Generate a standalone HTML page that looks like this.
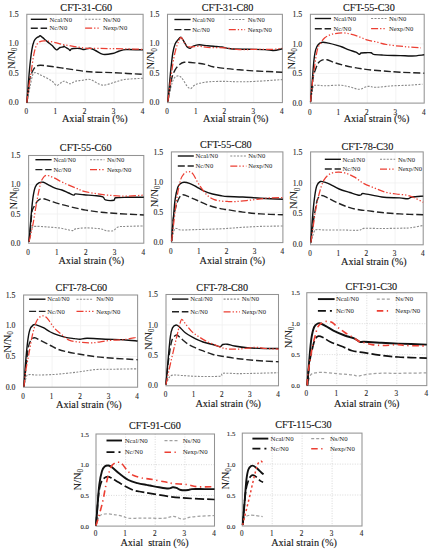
<!DOCTYPE html>
<html><head><meta charset="utf-8"><style>
html,body{margin:0;padding:0;background:#fff;width:431px;height:550px;overflow:hidden}
svg{display:block}
text{font-family:"Liberation Serif", serif;fill:#151515;stroke:#151515;stroke-width:0.12px}
text.t{fill:#2a2a2a;stroke:#2a2a2a}
text.lg{stroke:none;fill:#222}
text.yl{stroke-width:0.05px}
</style></head><body>
<svg width="431" height="550" viewBox="0 0 431 550">
<line x1="55.9" y1="14.3" x2="55.9" y2="102.7" stroke="#f0f0f0" stroke-width="0.8"/>
<line x1="85.0" y1="14.3" x2="85.0" y2="102.7" stroke="#f0f0f0" stroke-width="0.8"/>
<line x1="114.0" y1="14.3" x2="114.0" y2="102.7" stroke="#f0f0f0" stroke-width="0.8"/>
<line x1="26.8" y1="73.2" x2="143.1" y2="73.2" stroke="#f0f0f0" stroke-width="0.8"/>
<line x1="26.8" y1="43.8" x2="143.1" y2="43.8" stroke="#f0f0f0" stroke-width="0.8"/>
<rect x="26.8" y="14.3" width="116.3" height="88.4" fill="none" stroke="#939393" stroke-width="1.05"/>
<path d="M26.90,102.60 C27.70,98.62 30.47,83.68 31.70,78.70 C32.93,73.72 33.02,73.42 34.30,72.70 C35.58,71.98 37.42,73.55 39.40,74.40 C41.38,75.25 44.07,76.67 46.20,77.80 C48.33,78.93 50.48,79.92 52.20,81.20 C53.92,82.48 55.08,85.22 56.50,85.50 C57.92,85.78 59.42,83.62 60.70,82.90 C61.98,82.18 62.63,81.05 64.20,81.20 C65.77,81.35 68.25,83.80 70.10,83.80 C71.95,83.80 73.30,81.77 75.30,81.20 C77.30,80.63 79.60,80.68 82.10,80.40 C84.60,80.12 86.95,78.72 90.30,79.50 C93.65,80.28 98.22,84.62 102.20,85.10 C106.18,85.58 110.50,83.33 114.20,82.40 C117.90,81.47 119.60,80.18 124.40,79.50 C129.20,78.82 139.90,78.50 143.00,78.30" fill="none" stroke="#8a8a8a" stroke-width="1.1" stroke-dasharray="2 1.4"/>
<path d="M26.90,102.60 C27.17,100.50 28.07,93.70 28.50,90.00 C28.93,86.30 28.83,83.52 29.50,80.40 C30.17,77.28 31.48,73.57 32.50,71.30 C33.52,69.03 34.33,67.80 35.60,66.80 C36.87,65.80 38.10,65.43 40.10,65.30 C42.10,65.17 43.58,65.50 47.60,66.00 C51.62,66.50 58.17,67.43 64.20,68.30 C70.23,69.17 78.32,70.55 83.80,71.20 C89.28,71.85 92.03,71.95 97.10,72.20 C102.17,72.45 106.55,72.33 114.20,72.70 C121.85,73.07 138.20,74.12 143.00,74.40" fill="none" stroke="#222" stroke-width="1.4" stroke-dasharray="7 2.8" stroke-linejoin="round"/>
<path d="M26.90,102.60 C27.33,97.13 28.68,78.53 29.50,69.80 C30.32,61.07 31.03,54.98 31.80,50.20 C32.57,45.42 33.22,43.23 34.10,41.10 C34.98,38.97 36.37,38.10 37.10,37.40 C37.83,36.70 38.00,37.17 38.50,36.90 C39.00,36.63 39.45,35.72 40.10,35.80 C40.75,35.88 41.15,36.38 42.40,37.40 C43.65,38.42 45.97,40.53 47.60,41.90 C49.23,43.27 50.72,44.27 52.20,45.60 C53.68,46.93 55.20,49.58 56.50,49.90 C57.80,50.22 58.92,47.98 60.00,47.50 C61.08,47.02 62.33,47.25 63.00,47.00 C63.67,46.75 63.67,46.00 64.00,46.00 C64.33,46.00 64.25,46.50 65.00,47.00 C65.75,47.50 67.67,48.42 68.50,49.00 C69.33,49.58 69.55,50.50 70.00,50.50 C70.45,50.50 70.62,49.33 71.20,49.00 C71.78,48.67 72.03,48.58 73.50,48.50 C74.97,48.42 78.25,48.33 80.00,48.50 C81.75,48.67 82.33,49.53 84.00,49.50 C85.67,49.47 88.10,48.13 90.00,48.30 C91.90,48.47 93.22,49.48 95.40,50.50 C97.58,51.52 100.25,53.90 103.10,54.40 C105.95,54.90 109.80,54.07 112.50,53.50 C115.20,52.93 117.03,51.65 119.30,51.00 C121.57,50.35 122.15,49.78 126.10,49.60 C130.05,49.42 140.18,49.85 143.00,49.90" fill="none" stroke="#111" stroke-width="1.4" stroke-linejoin="round"/>
<path d="M26.90,102.60 C27.08,100.90 27.32,97.37 28.00,92.40 C28.68,87.43 29.98,79.33 31.00,72.80 C32.02,66.27 33.08,57.98 34.10,53.20 C35.12,48.42 35.85,46.12 37.10,44.10 C38.35,42.08 39.85,41.60 41.60,41.10 C43.35,40.60 45.33,40.85 47.60,41.10 C49.87,41.35 52.30,41.97 55.20,42.60 C58.10,43.23 60.23,44.02 65.00,44.90 C69.77,45.78 78.45,47.32 83.80,47.90 C89.15,48.48 92.03,48.27 97.10,48.40 C102.17,48.53 106.55,48.55 114.20,48.70 C121.85,48.85 138.20,49.20 143.00,49.30" fill="none" stroke="#ec3f33" stroke-width="1.25" stroke-dasharray="7 2 1.3 2 1.3 2" stroke-linejoin="round"/>
<text x="86.2" y="11.0" font-size="10.2" text-anchor="middle">CFT-31-C60</text>
<text x="18.6" y="105.3" font-size="7.8" text-anchor="end" class="t">0.0</text>
<text x="18.6" y="75.8" font-size="7.8" text-anchor="end" class="t">0.5</text>
<text x="18.6" y="46.4" font-size="7.8" text-anchor="end" class="t">1.0</text>
<text x="18.6" y="16.9" font-size="7.8" text-anchor="end" class="t">1.5</text>
<text x="26.3" y="114.1" font-size="7.2" text-anchor="middle" class="t">0</text>
<text x="55.4" y="114.1" font-size="7.2" text-anchor="middle" class="t">1</text>
<text x="84.5" y="114.1" font-size="7.2" text-anchor="middle" class="t">2</text>
<text x="113.5" y="114.1" font-size="7.2" text-anchor="middle" class="t">3</text>
<text x="142.6" y="114.1" font-size="7.2" text-anchor="middle" class="t">4</text>
<text x="94.8" y="121.7" font-size="10.2" text-anchor="middle">Axial strain (%)</text>
<text transform="translate(15.25,58.35) rotate(-90)" font-size="10.4" text-anchor="middle" class="yl">N/N<tspan font-size="7.2" dy="2.2">0</tspan></text>
<line x1="30.8" y1="19.3" x2="47.1" y2="19.3" stroke="#111" stroke-width="1.4"/>
<text x="49.6" y="21.5" font-size="6.6" class="lg">Ncal/N0</text>
<line x1="30.8" y1="28.2" x2="47.1" y2="28.2" stroke="#222" stroke-width="1.4" stroke-dasharray="7 2.8"/>
<text x="49.6" y="30.4" font-size="6.6" class="lg">Nc/N0</text>
<line x1="85.1" y1="19.3" x2="100.5" y2="19.3" stroke="#8a8a8a" stroke-width="1.1" stroke-dasharray="2 1.4"/>
<text x="103" y="21.5" font-size="6.6" class="lg">Ns/N0</text>
<line x1="85.1" y1="28.2" x2="100.5" y2="28.2" stroke="#ec3f33" stroke-width="1.25" stroke-dasharray="7 2 1.3 2 1.3 2"/>
<text x="103" y="30.4" font-size="6.6" class="lg">Nexp/N0</text>
<line x1="196.2" y1="14.3" x2="196.2" y2="102.6" stroke="#f0f0f0" stroke-width="0.8"/>
<line x1="224.9" y1="14.3" x2="224.9" y2="102.6" stroke="#f0f0f0" stroke-width="0.8"/>
<line x1="253.7" y1="14.3" x2="253.7" y2="102.6" stroke="#f0f0f0" stroke-width="0.8"/>
<line x1="167.5" y1="73.2" x2="282.4" y2="73.2" stroke="#f0f0f0" stroke-width="0.8"/>
<line x1="167.5" y1="43.7" x2="282.4" y2="43.7" stroke="#f0f0f0" stroke-width="0.8"/>
<rect x="167.5" y="14.3" width="114.9" height="88.3" fill="none" stroke="#939393" stroke-width="1.05"/>
<path d="M167.90,101.50 C168.55,98.55 170.57,87.90 171.80,83.80 C173.03,79.70 174.02,78.18 175.30,76.90 C176.58,75.62 178.23,75.67 179.50,76.10 C180.77,76.53 181.62,77.80 182.90,79.50 C184.18,81.20 185.92,84.78 187.20,86.30 C188.48,87.82 189.45,88.73 190.60,88.60 C191.75,88.47 192.67,86.37 194.10,85.50 C195.53,84.63 196.65,84.03 199.20,83.40 C201.75,82.77 205.13,82.03 209.40,81.70 C213.67,81.37 219.85,81.38 224.80,81.40 C229.75,81.42 233.87,81.82 239.10,81.80 C244.33,81.78 249.02,81.67 256.20,81.30 C263.38,80.93 277.87,79.88 282.20,79.60" fill="none" stroke="#8a8a8a" stroke-width="1.1" stroke-dasharray="2 1.4"/>
<path d="M167.90,101.50 C168.25,99.25 169.32,92.03 170.00,88.00 C170.68,83.97 171.15,80.33 172.00,77.30 C172.85,74.27 173.97,71.80 175.10,69.80 C176.23,67.80 177.30,66.55 178.80,65.30 C180.30,64.05 181.20,62.68 184.10,62.30 C187.00,61.92 192.55,62.63 196.20,63.00 C199.85,63.37 203.22,63.88 206.00,64.50 C208.78,65.12 209.77,66.05 212.90,66.70 C216.03,67.35 220.43,67.88 224.80,68.40 C229.17,68.92 233.87,69.37 239.10,69.80 C244.33,70.23 249.02,70.60 256.20,71.00 C263.38,71.40 277.87,72.00 282.20,72.20" fill="none" stroke="#222" stroke-width="1.4" stroke-dasharray="7 2.8" stroke-linejoin="round"/>
<path d="M167.90,101.50 C168.33,96.72 169.68,80.85 170.50,72.80 C171.32,64.75 172.03,57.98 172.80,53.20 C173.57,48.42 174.22,46.37 175.10,44.10 C175.98,41.83 177.10,40.72 178.10,39.60 C179.10,38.48 180.00,36.87 181.10,37.40 C182.20,37.93 183.68,41.20 184.70,42.80 C185.72,44.40 186.27,46.10 187.20,47.00 C188.13,47.90 189.30,48.33 190.30,48.20 C191.30,48.07 191.72,46.77 193.20,46.20 C194.68,45.63 196.78,44.87 199.20,44.80 C201.62,44.73 204.85,45.52 207.70,45.80 C210.55,46.08 213.92,46.30 216.30,46.50 C218.68,46.70 219.62,46.62 222.00,47.00 C224.38,47.38 226.32,48.42 230.60,48.80 C234.88,49.18 242.00,49.17 247.70,49.30 C253.40,49.43 260.53,49.40 264.80,49.60 C269.07,49.80 270.40,50.63 273.30,50.50 C276.20,50.37 280.72,49.08 282.20,48.80" fill="none" stroke="#111" stroke-width="1.4" stroke-linejoin="round"/>
<path d="M167.90,101.50 C168.27,98.55 169.30,89.88 170.10,83.80 C170.90,77.72 171.83,70.42 172.70,65.00 C173.57,59.58 174.30,55.28 175.30,51.30 C176.30,47.32 177.72,43.43 178.70,41.10 C179.68,38.77 180.35,37.17 181.20,37.30 C182.05,37.43 182.93,40.57 183.80,41.90 C184.67,43.23 185.27,44.45 186.40,45.30 C187.53,46.15 188.47,46.85 190.60,47.00 C192.73,47.15 196.35,46.12 199.20,46.20 C202.05,46.28 203.43,47.22 207.70,47.50 C211.97,47.78 219.57,47.55 224.80,47.90 C230.03,48.25 233.87,49.37 239.10,49.60 C244.33,49.83 250.50,49.35 256.20,49.30 C261.90,49.25 268.97,49.48 273.30,49.30 C277.63,49.12 280.72,48.38 282.20,48.20" fill="none" stroke="#ec3f33" stroke-width="1.25" stroke-dasharray="7 2 1.3 2 1.3 2" stroke-linejoin="round"/>
<text x="227.6" y="10.9" font-size="10.2" text-anchor="middle">CFT-31-C80</text>
<text x="159.3" y="105.2" font-size="7.8" text-anchor="end" class="t">0.0</text>
<text x="159.3" y="75.8" font-size="7.8" text-anchor="end" class="t">0.5</text>
<text x="159.3" y="46.3" font-size="7.8" text-anchor="end" class="t">1.0</text>
<text x="159.3" y="16.9" font-size="7.8" text-anchor="end" class="t">1.5</text>
<text x="167.0" y="114.0" font-size="7.2" text-anchor="middle" class="t">0</text>
<text x="195.7" y="114.0" font-size="7.2" text-anchor="middle" class="t">1</text>
<text x="224.4" y="114.0" font-size="7.2" text-anchor="middle" class="t">2</text>
<text x="253.2" y="114.0" font-size="7.2" text-anchor="middle" class="t">3</text>
<text x="281.9" y="114.0" font-size="7.2" text-anchor="middle" class="t">4</text>
<text x="235.7" y="121.7" font-size="10.2" text-anchor="middle">Axial strain (%)</text>
<text transform="translate(154.40,58.85) rotate(-90)" font-size="10.4" text-anchor="middle" class="yl">N/N<tspan font-size="7.2" dy="2.2">0</tspan></text>
<line x1="174.4" y1="19.5" x2="190.6" y2="19.5" stroke="#111" stroke-width="1.4"/>
<text x="192.3" y="21.7" font-size="6.6" class="lg">Ncal/N0</text>
<line x1="174.4" y1="29.6" x2="190.6" y2="29.6" stroke="#222" stroke-width="1.4" stroke-dasharray="7 2.8"/>
<text x="192.3" y="31.8" font-size="6.6" class="lg">Nc/N0</text>
<line x1="228.8" y1="19.5" x2="245.1" y2="19.5" stroke="#8a8a8a" stroke-width="1.1" stroke-dasharray="2 1.4"/>
<text x="247.7" y="21.7" font-size="6.6" class="lg">Ns/N0</text>
<line x1="228.8" y1="29.6" x2="245.1" y2="29.6" stroke="#ec3f33" stroke-width="1.25" stroke-dasharray="7 2 1.3 2 1.3 2"/>
<text x="247.7" y="31.8" font-size="6.6" class="lg">Nexp/N0</text>
<line x1="338.8" y1="14.3" x2="338.8" y2="103.1" stroke="#f0f0f0" stroke-width="0.8"/>
<line x1="367.3" y1="14.3" x2="367.3" y2="103.1" stroke="#f0f0f0" stroke-width="0.8"/>
<line x1="395.8" y1="14.3" x2="395.8" y2="103.1" stroke="#f0f0f0" stroke-width="0.8"/>
<line x1="310.4" y1="73.5" x2="424.2" y2="73.5" stroke="#f0f0f0" stroke-width="0.8"/>
<line x1="310.4" y1="43.9" x2="424.2" y2="43.9" stroke="#f0f0f0" stroke-width="0.8"/>
<rect x="310.4" y="14.3" width="113.8" height="88.8" fill="none" stroke="#939393" stroke-width="1.05"/>
<path d="M310.60,101.70 C311.02,99.28 312.25,89.95 313.10,87.20 C313.95,84.45 313.70,85.43 315.70,85.20 C317.70,84.97 320.97,85.80 325.10,85.80 C329.23,85.80 336.23,84.97 340.50,85.20 C344.77,85.43 347.57,86.52 350.70,87.20 C353.83,87.88 356.45,89.43 359.30,89.30 C362.15,89.17 364.97,86.73 367.80,86.40 C370.63,86.07 372.32,87.38 376.30,87.30 C380.28,87.22 386.28,86.25 391.70,85.90 C397.12,85.55 403.68,85.48 408.80,85.20 C413.92,84.92 420.13,84.37 422.40,84.20" fill="none" stroke="#8a8a8a" stroke-width="1.1" stroke-dasharray="2 1.4"/>
<path d="M310.60,101.70 C310.87,99.08 311.73,90.25 312.20,86.00 C312.67,81.75 312.73,79.30 313.40,76.20 C314.07,73.10 315.28,69.72 316.20,67.40 C317.12,65.08 317.93,63.52 318.90,62.30 C319.87,61.08 320.65,60.53 322.00,60.10 C323.35,59.67 324.77,59.23 327.00,59.70 C329.23,60.17 332.30,61.88 335.40,62.90 C338.50,63.92 341.90,64.93 345.60,65.80 C349.30,66.67 353.90,67.47 357.60,68.10 C361.30,68.73 363.55,69.12 367.80,69.60 C372.05,70.08 377.70,70.57 383.10,71.00 C388.50,71.43 393.35,71.83 400.20,72.20 C407.05,72.57 420.20,73.03 424.20,73.20" fill="none" stroke="#222" stroke-width="1.4" stroke-dasharray="7 2.8" stroke-linejoin="round"/>
<path d="M310.60,101.70 C310.88,98.15 311.73,87.37 312.30,80.40 C312.87,73.43 313.43,65.03 314.00,59.90 C314.57,54.77 314.98,52.17 315.70,49.60 C316.42,47.03 317.17,45.72 318.30,44.50 C319.43,43.28 320.80,42.53 322.50,42.30 C324.20,42.07 326.07,42.60 328.50,43.10 C330.93,43.60 334.82,44.65 337.10,45.30 C339.38,45.95 340.22,46.23 342.20,47.00 C344.18,47.77 346.72,49.03 349.00,49.90 C351.28,50.77 354.18,51.45 355.90,52.20 C357.62,52.95 358.45,54.27 359.30,54.40 C360.15,54.53 359.88,53.28 361.00,53.00 C362.12,52.72 364.32,52.75 366.00,52.70 C367.68,52.65 369.82,52.42 371.10,52.70 C372.38,52.98 371.70,54.00 373.70,54.40 C375.70,54.80 378.68,54.90 383.10,55.10 C387.52,55.30 395.35,55.45 400.20,55.60 C405.05,55.75 408.20,56.13 412.20,56.00 C416.20,55.87 422.20,55.00 424.20,54.80" fill="none" stroke="#111" stroke-width="1.4" stroke-linejoin="round"/>
<path d="M310.60,101.70 C310.88,98.72 311.60,89.92 312.30,83.80 C313.00,77.68 313.95,70.70 314.80,65.00 C315.65,59.30 316.40,53.30 317.40,49.60 C318.40,45.90 319.52,44.80 320.80,42.80 C322.08,40.80 323.25,39.03 325.10,37.60 C326.95,36.17 329.05,34.98 331.90,34.20 C334.75,33.42 339.07,32.90 342.20,32.90 C345.33,32.90 347.85,33.55 350.70,34.20 C353.55,34.85 356.45,35.80 359.30,36.80 C362.15,37.80 364.97,39.35 367.80,40.20 C370.63,41.05 373.18,41.18 376.30,41.90 C379.42,42.62 382.52,43.78 386.50,44.50 C390.48,45.22 396.20,45.77 400.20,46.20 C404.20,46.63 407.03,46.82 410.50,47.10 C413.97,47.38 419.25,47.77 421.00,47.90" fill="none" stroke="#ec3f33" stroke-width="1.25" stroke-dasharray="7 2 1.3 2 1.3 2" stroke-linejoin="round"/>
<text x="368.9" y="10.9" font-size="10.2" text-anchor="middle">CFT-55-C30</text>
<text x="302.2" y="105.7" font-size="7.8" text-anchor="end" class="t">0.0</text>
<text x="302.2" y="76.1" font-size="7.8" text-anchor="end" class="t">0.5</text>
<text x="302.2" y="46.5" font-size="7.8" text-anchor="end" class="t">1.0</text>
<text x="302.2" y="16.9" font-size="7.8" text-anchor="end" class="t">1.5</text>
<text x="309.9" y="114.5" font-size="7.2" text-anchor="middle" class="t">0</text>
<text x="338.3" y="114.5" font-size="7.2" text-anchor="middle" class="t">1</text>
<text x="366.8" y="114.5" font-size="7.2" text-anchor="middle" class="t">2</text>
<text x="395.2" y="114.5" font-size="7.2" text-anchor="middle" class="t">3</text>
<text x="423.7" y="114.5" font-size="7.2" text-anchor="middle" class="t">4</text>
<text x="376.5" y="122.3" font-size="10.2" text-anchor="middle">Axial strain (%)</text>
<text transform="translate(295.00,58.85) rotate(-90)" font-size="10.4" text-anchor="middle" class="yl">N/N<tspan font-size="7.2" dy="2.2">0</tspan></text>
<line x1="314.8" y1="18.5" x2="331.1" y2="18.5" stroke="#111" stroke-width="1.4"/>
<text x="333.6" y="20.7" font-size="6.6" class="lg">Ncal/N0</text>
<line x1="314.8" y1="28.7" x2="331.1" y2="28.7" stroke="#222" stroke-width="1.4" stroke-dasharray="7 2.8"/>
<text x="333.6" y="30.9" font-size="6.6" class="lg">Nc/N0</text>
<line x1="371.1" y1="18.5" x2="386.5" y2="18.5" stroke="#8a8a8a" stroke-width="1.1" stroke-dasharray="2 1.4"/>
<text x="389.1" y="20.7" font-size="6.6" class="lg">Ns/N0</text>
<line x1="371.1" y1="28.7" x2="386.5" y2="28.7" stroke="#ec3f33" stroke-width="1.25" stroke-dasharray="7 2 1.3 2 1.3 2"/>
<text x="389.1" y="30.9" font-size="6.6" class="lg">Nexp/N0</text>
<line x1="57.4" y1="155.5" x2="57.4" y2="243.2" stroke="#f0f0f0" stroke-width="0.8"/>
<line x1="86.2" y1="155.5" x2="86.2" y2="243.2" stroke="#f0f0f0" stroke-width="0.8"/>
<line x1="115.0" y1="155.5" x2="115.0" y2="243.2" stroke="#f0f0f0" stroke-width="0.8"/>
<line x1="28.6" y1="214.0" x2="143.8" y2="214.0" stroke="#f0f0f0" stroke-width="0.8"/>
<line x1="28.6" y1="184.7" x2="143.8" y2="184.7" stroke="#f0f0f0" stroke-width="0.8"/>
<rect x="28.6" y="155.5" width="115.2" height="87.7" fill="none" stroke="#939393" stroke-width="1.05"/>
<path d="M29.10,241.70 C29.58,239.43 30.80,230.65 32.00,228.10 C33.20,225.55 33.88,226.60 36.30,226.40 C38.72,226.20 42.52,226.62 46.50,226.90 C50.48,227.18 55.92,227.48 60.20,228.10 C64.48,228.72 69.63,230.47 72.20,230.60 C74.77,230.73 73.33,229.35 75.60,228.90 C77.87,228.45 81.55,227.90 85.80,227.90 C90.05,227.90 97.70,228.43 101.10,228.90 C104.50,229.37 104.20,230.40 106.20,230.70 C108.20,231.00 111.10,231.33 113.10,230.70 C115.10,230.07 115.92,227.62 118.20,226.90 C120.48,226.18 122.53,226.57 126.80,226.40 C131.07,226.23 140.97,225.98 143.80,225.90" fill="none" stroke="#8a8a8a" stroke-width="1.1" stroke-dasharray="2 1.4"/>
<path d="M29.10,241.70 C29.38,238.92 30.32,230.05 30.80,225.00 C31.28,219.95 31.45,214.45 32.00,211.40 C32.55,208.35 33.17,208.45 34.10,206.70 C35.03,204.95 36.23,202.25 37.60,200.90 C38.97,199.55 40.35,198.65 42.30,198.60 C44.25,198.55 46.32,199.68 49.30,200.60 C52.28,201.52 56.10,202.93 60.20,204.10 C64.30,205.27 69.63,206.60 73.90,207.60 C78.17,208.60 81.27,209.33 85.80,210.10 C90.33,210.87 95.70,211.62 101.10,212.20 C106.50,212.78 111.08,213.13 118.20,213.60 C125.32,214.07 139.53,214.77 143.80,215.00" fill="none" stroke="#222" stroke-width="1.4" stroke-dasharray="7 2.8" stroke-linejoin="round"/>
<path d="M29.10,241.70 C29.45,237.23 30.55,222.28 31.20,214.90 C31.85,207.52 32.32,202.05 33.00,197.40 C33.68,192.75 34.33,189.42 35.30,187.00 C36.27,184.58 37.45,183.68 38.80,182.90 C40.15,182.12 41.65,181.88 43.40,182.30 C45.15,182.72 47.35,184.42 49.30,185.40 C51.25,186.38 53.00,187.43 55.10,188.20 C57.20,188.97 59.63,189.20 61.90,190.00 C64.17,190.80 66.70,192.15 68.70,193.00 C70.70,193.85 72.75,194.95 73.90,195.10 C75.05,195.25 73.92,193.95 75.60,193.90 C77.28,193.85 80.88,194.52 84.00,194.80 C87.12,195.08 91.17,195.27 94.30,195.60 C97.43,195.93 100.95,196.08 102.80,196.80 C104.65,197.52 103.55,199.33 105.40,199.90 C107.25,200.47 112.20,200.55 113.90,200.20 C115.60,199.85 113.45,198.28 115.60,197.80 C117.75,197.32 122.10,197.38 126.80,197.30 C131.50,197.22 140.97,197.30 143.80,197.30" fill="none" stroke="#111" stroke-width="1.4" stroke-linejoin="round"/>
<path d="M29.10,241.70 C29.75,238.78 31.77,230.60 33.00,224.20 C34.23,217.80 35.33,209.70 36.50,203.30 C37.67,196.90 38.97,189.93 40.00,185.80 C41.03,181.67 41.62,180.23 42.70,178.50 C43.78,176.77 44.72,175.55 46.50,175.40 C48.28,175.25 50.55,176.37 53.40,177.60 C56.25,178.83 59.90,181.08 63.60,182.80 C67.30,184.52 72.20,186.48 75.60,187.90 C79.00,189.32 80.32,190.30 84.00,191.30 C87.68,192.30 92.85,193.18 97.70,193.90 C102.55,194.62 108.25,195.23 113.10,195.60 C117.95,195.97 121.68,196.18 126.80,196.10 C131.92,196.02 140.97,195.27 143.80,195.10" fill="none" stroke="#ec3f33" stroke-width="1.25" stroke-dasharray="7 2 1.3 2 1.3 2" stroke-linejoin="round"/>
<text x="85.7" y="151.1" font-size="10.2" text-anchor="middle">CFT-55-C60</text>
<text x="20.4" y="245.8" font-size="7.8" text-anchor="end" class="t">0.0</text>
<text x="20.4" y="216.6" font-size="7.8" text-anchor="end" class="t">0.5</text>
<text x="20.4" y="187.3" font-size="7.8" text-anchor="end" class="t">1.0</text>
<text x="20.4" y="158.1" font-size="7.8" text-anchor="end" class="t">1.5</text>
<text x="28.1" y="254.6" font-size="7.2" text-anchor="middle" class="t">0</text>
<text x="56.9" y="254.6" font-size="7.2" text-anchor="middle" class="t">1</text>
<text x="85.7" y="254.6" font-size="7.2" text-anchor="middle" class="t">2</text>
<text x="114.5" y="254.6" font-size="7.2" text-anchor="middle" class="t">3</text>
<text x="143.3" y="254.6" font-size="7.2" text-anchor="middle" class="t">4</text>
<text x="91.3" y="264.1" font-size="10.2" text-anchor="middle">Axial strain (%)</text>
<text transform="translate(17.00,198.70) rotate(-90)" font-size="10.4" text-anchor="middle" class="yl">N/N<tspan font-size="7.2" dy="2.2">0</tspan></text>
<line x1="35.4" y1="159.7" x2="51.6" y2="159.7" stroke="#111" stroke-width="1.4"/>
<text x="53.4" y="161.89999999999998" font-size="6.6" class="lg">Ncal/N0</text>
<line x1="35.4" y1="169.6" x2="51.6" y2="169.6" stroke="#222" stroke-width="1.4" stroke-dasharray="7 2.8"/>
<text x="53.4" y="171.79999999999998" font-size="6.6" class="lg">Nc/N0</text>
<line x1="90" y1="159.7" x2="104.5" y2="159.7" stroke="#8a8a8a" stroke-width="1.1" stroke-dasharray="2 1.4"/>
<text x="107.1" y="161.89999999999998" font-size="6.6" class="lg">Ns/N0</text>
<line x1="90" y1="169.6" x2="104.5" y2="169.6" stroke="#ec3f33" stroke-width="1.25" stroke-dasharray="7 2 1.3 2 1.3 2"/>
<text x="107.1" y="171.79999999999998" font-size="6.6" class="lg">Nexp/N0</text>
<line x1="199.3" y1="151.9" x2="199.3" y2="242.6" stroke="#f0f0f0" stroke-width="0.8"/>
<line x1="227.1" y1="151.9" x2="227.1" y2="242.6" stroke="#f0f0f0" stroke-width="0.8"/>
<line x1="255.0" y1="151.9" x2="255.0" y2="242.6" stroke="#f0f0f0" stroke-width="0.8"/>
<line x1="171.4" y1="212.4" x2="282.9" y2="212.4" stroke="#f0f0f0" stroke-width="0.8"/>
<line x1="171.4" y1="182.1" x2="282.9" y2="182.1" stroke="#f0f0f0" stroke-width="0.8"/>
<rect x="171.4" y="151.9" width="111.5" height="90.7" fill="none" stroke="#939393" stroke-width="1.05"/>
<path d="M171.60,241.20 C172.03,239.33 173.32,232.12 174.20,230.00 C175.08,227.88 175.85,228.50 176.90,228.50 C177.95,228.50 177.53,229.82 180.50,230.00 C183.47,230.18 189.37,229.75 194.70,229.60 C200.03,229.45 206.95,229.30 212.50,229.10 C218.05,228.90 222.95,228.70 228.00,228.40 C233.05,228.10 237.37,227.63 242.80,227.30 C248.23,226.97 253.92,226.62 260.60,226.40 C267.28,226.18 279.18,226.07 282.90,226.00" fill="none" stroke="#8a8a8a" stroke-width="1.1" stroke-dasharray="2 1.4"/>
<path d="M171.60,241.20 C171.88,237.48 172.55,224.75 173.30,218.90 C174.05,213.05 175.17,209.53 176.10,206.10 C177.03,202.67 177.83,200.18 178.90,198.30 C179.97,196.42 181.08,195.15 182.50,194.80 C183.92,194.45 184.92,195.25 187.40,196.20 C189.88,197.15 193.85,198.97 197.40,200.50 C200.95,202.03 204.68,204.00 208.70,205.40 C212.72,206.80 218.28,208.17 221.50,208.90 C224.72,209.63 224.45,209.27 228.00,209.80 C231.55,210.33 237.37,211.42 242.80,212.10 C248.23,212.78 253.92,213.45 260.60,213.90 C267.28,214.35 279.18,214.65 282.90,214.80" fill="none" stroke="#222" stroke-width="1.4" stroke-dasharray="7 2.8" stroke-linejoin="round"/>
<path d="M171.60,241.20 C171.88,237.55 172.72,226.22 173.30,219.30 C173.88,212.38 174.35,205.05 175.10,199.70 C175.85,194.35 176.90,189.88 177.80,187.20 C178.70,184.52 179.47,184.43 180.50,183.60 C181.53,182.77 182.52,182.25 184.00,182.20 C185.48,182.15 187.32,182.53 189.40,183.30 C191.48,184.07 194.13,185.55 196.50,186.80 C198.87,188.05 200.93,189.60 203.60,190.80 C206.27,192.00 209.52,193.17 212.50,194.00 C215.48,194.83 218.92,195.38 221.50,195.80 C224.08,196.22 224.45,196.30 228.00,196.50 C231.55,196.70 237.37,196.72 242.80,197.00 C248.23,197.28 253.92,197.82 260.60,198.20 C267.28,198.58 279.18,199.12 282.90,199.30" fill="none" stroke="#111" stroke-width="1.4" stroke-linejoin="round"/>
<path d="M171.60,241.20 C172.03,237.55 173.32,226.52 174.20,219.30 C175.08,212.08 175.85,204.43 176.90,197.90 C177.95,191.37 179.32,184.12 180.50,180.10 C181.68,176.08 182.67,175.23 184.00,173.80 C185.33,172.37 187.02,171.50 188.50,171.50 C189.98,171.50 191.42,172.07 192.90,173.80 C194.38,175.53 195.77,179.22 197.40,181.90 C199.03,184.58 200.92,187.53 202.70,189.90 C204.48,192.27 206.17,194.47 208.10,196.10 C210.03,197.73 212.07,198.87 214.30,199.70 C216.53,200.53 219.22,200.80 221.50,201.10 C223.78,201.40 225.63,201.43 228.00,201.50 C230.37,201.57 232.63,201.65 235.70,201.50 C238.77,201.35 242.83,200.97 246.40,200.60 C249.97,200.23 253.25,199.75 257.10,199.30 C260.95,198.85 265.20,198.20 269.50,197.90 C273.80,197.60 280.67,197.57 282.90,197.50" fill="none" stroke="#ec3f33" stroke-width="1.25" stroke-dasharray="7 2 1.3 2 1.3 2" stroke-linejoin="round"/>
<text x="225.8" y="148.2" font-size="10.2" text-anchor="middle">CFT-55-C80</text>
<text x="163.2" y="245.2" font-size="7.8" text-anchor="end" class="t">0.0</text>
<text x="163.2" y="215.0" font-size="7.8" text-anchor="end" class="t">0.5</text>
<text x="163.2" y="184.7" font-size="7.8" text-anchor="end" class="t">1.0</text>
<text x="163.2" y="154.5" font-size="7.8" text-anchor="end" class="t">1.5</text>
<text x="170.9" y="254.0" font-size="7.2" text-anchor="middle" class="t">0</text>
<text x="198.8" y="254.0" font-size="7.2" text-anchor="middle" class="t">1</text>
<text x="226.6" y="254.0" font-size="7.2" text-anchor="middle" class="t">2</text>
<text x="254.5" y="254.0" font-size="7.2" text-anchor="middle" class="t">3</text>
<text x="282.4" y="254.0" font-size="7.2" text-anchor="middle" class="t">4</text>
<text x="232.4" y="263.5" font-size="10.2" text-anchor="middle">Axial strain (%)</text>
<text transform="translate(157.50,196.50) rotate(-90)" font-size="10.4" text-anchor="middle" class="yl">N/N<tspan font-size="7.2" dy="2.2">0</tspan></text>
<line x1="177.8" y1="156" x2="193.8" y2="156" stroke="#111" stroke-width="1.4"/>
<text x="195.6" y="158.2" font-size="6.6" class="lg">Ncal/N0</text>
<line x1="177.8" y1="166" x2="193.8" y2="166" stroke="#222" stroke-width="1.4" stroke-dasharray="7 2.8"/>
<text x="195.6" y="168.2" font-size="6.6" class="lg">Nc/N0</text>
<line x1="230.3" y1="156" x2="246.4" y2="156" stroke="#8a8a8a" stroke-width="1.1" stroke-dasharray="2 1.4"/>
<text x="248.2" y="158.2" font-size="6.6" class="lg">Ns/N0</text>
<line x1="230.3" y1="166" x2="246.4" y2="166" stroke="#ec3f33" stroke-width="1.25" stroke-dasharray="7 2 1.3 2 1.3 2"/>
<text x="248.2" y="168.2" font-size="6.6" class="lg">Nexp/N0</text>
<line x1="338.8" y1="151.9" x2="338.8" y2="244.8" stroke="#f0f0f0" stroke-width="0.8"/>
<line x1="366.9" y1="151.9" x2="366.9" y2="244.8" stroke="#f0f0f0" stroke-width="0.8"/>
<line x1="395.1" y1="151.9" x2="395.1" y2="244.8" stroke="#f0f0f0" stroke-width="0.8"/>
<line x1="310.6" y1="213.8" x2="423.2" y2="213.8" stroke="#f0f0f0" stroke-width="0.8"/>
<line x1="310.6" y1="182.9" x2="423.2" y2="182.9" stroke="#f0f0f0" stroke-width="0.8"/>
<rect x="310.6" y="151.9" width="112.6" height="92.9" fill="none" stroke="#939393" stroke-width="1.05"/>
<path d="M310.90,242.40 C311.43,240.62 313.12,233.83 314.10,231.70 C315.08,229.57 315.02,229.88 316.80,229.60 C318.58,229.32 320.50,229.93 324.80,230.00 C329.10,230.07 336.95,229.95 342.60,230.00 C348.25,230.05 355.13,230.57 358.70,230.30 C362.27,230.03 360.15,228.70 364.00,228.40 C367.85,228.10 375.87,228.53 381.80,228.50 C387.73,228.47 394.85,228.32 399.60,228.20 C404.35,228.08 406.37,228.25 410.30,227.80 C414.23,227.35 421.05,225.88 423.20,225.50" fill="none" stroke="#8a8a8a" stroke-width="1.1" stroke-dasharray="2 1.4"/>
<path d="M310.90,242.40 C311.30,238.98 312.55,227.45 313.30,221.90 C314.05,216.35 314.70,212.88 315.40,209.10 C316.10,205.32 316.55,201.43 317.50,199.20 C318.45,196.97 319.92,196.17 321.10,195.70 C322.28,195.23 321.88,195.22 324.60,196.40 C327.32,197.58 333.20,200.92 337.40,202.80 C341.60,204.68 345.95,206.50 349.80,207.70 C353.65,208.90 357.63,209.52 360.50,210.00 C363.37,210.48 363.45,210.18 367.00,210.60 C370.55,211.02 376.37,211.95 381.80,212.50 C387.23,213.05 392.70,213.52 399.60,213.90 C406.50,214.28 419.27,214.65 423.20,214.80" fill="none" stroke="#222" stroke-width="1.4" stroke-dasharray="7 2.8" stroke-linejoin="round"/>
<path d="M310.90,242.40 C311.17,238.27 311.87,225.27 312.50,217.60 C313.13,209.93 313.98,201.72 314.70,196.40 C315.42,191.08 315.87,188.18 316.80,185.70 C317.73,183.22 319.00,182.08 320.30,181.50 C321.60,180.92 322.95,181.73 324.60,182.20 C326.25,182.67 327.78,183.17 330.20,184.30 C332.62,185.43 335.83,187.63 339.10,189.00 C342.37,190.37 346.53,191.47 349.80,192.50 C353.07,193.53 356.78,194.83 358.70,195.20 C360.62,195.57 360.42,194.97 361.30,194.70 C362.18,194.43 360.58,193.22 364.00,193.60 C367.42,193.98 375.87,196.28 381.80,197.00 C387.73,197.72 395.28,197.60 399.60,197.90 C403.92,198.20 405.62,198.95 407.70,198.80 C409.78,198.65 409.52,197.45 412.10,197.00 C414.68,196.55 421.35,196.25 423.20,196.10" fill="none" stroke="#111" stroke-width="1.4" stroke-linejoin="round"/>
<path d="M310.90,242.40 C311.28,239.73 312.37,232.03 313.20,226.40 C314.03,220.77 314.85,214.25 315.90,208.60 C316.95,202.95 318.17,197.25 319.50,192.50 C320.83,187.75 322.12,183.22 323.90,180.10 C325.68,176.98 327.82,175.13 330.20,173.80 C332.58,172.47 335.53,172.18 338.20,172.10 C340.87,172.02 343.38,172.42 346.20,173.30 C349.02,174.18 352.13,175.68 355.10,177.40 C358.07,179.12 360.73,181.82 364.00,183.60 C367.27,185.38 371.13,186.67 374.70,188.10 C378.27,189.53 381.83,191.22 385.40,192.20 C388.97,193.18 392.53,193.50 396.10,194.00 C399.67,194.50 403.83,194.62 406.80,195.20 C409.77,195.78 411.17,196.32 413.90,197.50 C416.63,198.68 421.65,201.50 423.20,202.30" fill="none" stroke="#ec3f33" stroke-width="1.25" stroke-dasharray="7 2 1.3 2 1.3 2" stroke-linejoin="round"/>
<text x="367.4" y="149.5" font-size="10.2" text-anchor="middle">CFT-78-C30</text>
<text x="302.4" y="247.4" font-size="7.8" text-anchor="end" class="t">0.0</text>
<text x="302.4" y="216.4" font-size="7.8" text-anchor="end" class="t">0.5</text>
<text x="302.4" y="185.5" font-size="7.8" text-anchor="end" class="t">1.0</text>
<text x="302.4" y="154.5" font-size="7.8" text-anchor="end" class="t">1.5</text>
<text x="310.1" y="256.2" font-size="7.2" text-anchor="middle" class="t">0</text>
<text x="338.2" y="256.2" font-size="7.2" text-anchor="middle" class="t">1</text>
<text x="366.4" y="256.2" font-size="7.2" text-anchor="middle" class="t">2</text>
<text x="394.6" y="256.2" font-size="7.2" text-anchor="middle" class="t">3</text>
<text x="422.7" y="256.2" font-size="7.2" text-anchor="middle" class="t">4</text>
<text x="373.9" y="264.7" font-size="10.2" text-anchor="middle">Axial strain (%)</text>
<text transform="translate(297.35,198.35) rotate(-90)" font-size="10.4" text-anchor="middle" class="yl">N/N<tspan font-size="7.2" dy="2.2">0</tspan></text>
<line x1="324.8" y1="159.3" x2="340.9" y2="159.3" stroke="#111" stroke-width="1.4"/>
<text x="342.6" y="161.5" font-size="6.6" class="lg">Ncal/N0</text>
<line x1="324.8" y1="169" x2="340.9" y2="169" stroke="#222" stroke-width="1.4" stroke-dasharray="7 2.8"/>
<text x="342.6" y="171.2" font-size="6.6" class="lg">Nc/N0</text>
<line x1="380" y1="159.3" x2="395.2" y2="159.3" stroke="#8a8a8a" stroke-width="1.1" stroke-dasharray="2 1.4"/>
<text x="397.9" y="161.5" font-size="6.6" class="lg">Ns/N0</text>
<line x1="380" y1="169" x2="395.2" y2="169" stroke="#ec3f33" stroke-width="1.25" stroke-dasharray="7 2 1.3 2 1.3 2"/>
<text x="397.9" y="171.2" font-size="6.6" class="lg">Nexp/N0</text>
<line x1="52.1" y1="295" x2="52.1" y2="387.2" stroke="#f0f0f0" stroke-width="0.8"/>
<line x1="80.6" y1="295" x2="80.6" y2="387.2" stroke="#f0f0f0" stroke-width="0.8"/>
<line x1="109.1" y1="295" x2="109.1" y2="387.2" stroke="#f0f0f0" stroke-width="0.8"/>
<line x1="23.6" y1="356.5" x2="137.6" y2="356.5" stroke="#f0f0f0" stroke-width="0.8"/>
<line x1="23.6" y1="325.7" x2="137.6" y2="325.7" stroke="#f0f0f0" stroke-width="0.8"/>
<rect x="23.6" y="295" width="114.0" height="92.2" fill="none" stroke="#939393" stroke-width="1.05"/>
<path d="M24.00,386.50 C24.40,384.83 25.55,378.48 26.40,376.50 C27.25,374.52 27.13,374.85 29.10,374.60 C31.07,374.35 33.65,375.05 38.20,375.00 C42.75,374.95 49.77,374.80 56.40,374.30 C63.03,373.80 71.37,372.80 78.00,372.00 C84.63,371.20 90.13,369.97 96.20,369.50 C102.27,369.03 107.50,369.32 114.40,369.20 C121.30,369.08 133.73,368.87 137.60,368.80" fill="none" stroke="#8a8a8a" stroke-width="1.1" stroke-dasharray="2 1.4"/>
<path d="M24.00,386.50 C24.38,382.73 25.57,370.50 26.30,363.90 C27.03,357.30 27.58,350.92 28.40,346.90 C29.22,342.88 30.13,341.33 31.20,339.80 C32.27,338.27 33.27,337.58 34.80,337.70 C36.33,337.82 37.80,339.20 40.40,340.50 C43.00,341.80 47.47,344.03 50.40,345.50 C53.33,346.97 55.18,348.23 58.00,349.30 C60.82,350.37 63.63,351.07 67.30,351.90 C70.97,352.73 75.18,353.48 80.00,354.30 C84.82,355.12 90.47,356.13 96.20,356.80 C101.93,357.47 107.50,357.82 114.40,358.30 C121.30,358.78 133.73,359.47 137.60,359.70" fill="none" stroke="#222" stroke-width="1.4" stroke-dasharray="7 2.8" stroke-linejoin="round"/>
<path d="M24.00,386.50 C24.25,382.73 24.88,371.45 25.50,363.90 C26.12,356.35 26.98,346.87 27.70,341.20 C28.42,335.53 28.87,332.62 29.80,329.90 C30.73,327.18 32.23,325.73 33.30,324.90 C34.37,324.07 34.53,324.43 36.20,324.90 C37.87,325.37 40.93,326.52 43.30,327.70 C45.67,328.88 47.95,330.75 50.40,332.00 C52.85,333.25 55.48,334.30 58.00,335.20 C60.52,336.10 62.75,336.83 65.50,337.40 C68.25,337.97 72.08,338.30 74.50,338.60 C76.92,338.90 77.90,339.25 80.00,339.20 C82.10,339.15 82.88,338.30 87.10,338.30 C91.32,338.30 99.23,338.97 105.30,339.20 C111.37,339.43 118.12,339.40 123.50,339.70 C128.88,340.00 135.25,340.78 137.60,341.00" fill="none" stroke="#111" stroke-width="1.4" stroke-linejoin="round"/>
<path d="M24.00,386.50 C24.25,384.15 24.65,378.05 25.50,372.40 C26.35,366.75 27.92,358.98 29.10,352.60 C30.28,346.22 31.42,339.18 32.60,334.10 C33.78,329.02 35.05,324.90 36.20,322.10 C37.35,319.30 38.32,318.33 39.50,317.30 C40.68,316.27 42.13,315.87 43.30,315.90 C44.47,315.93 45.55,316.73 46.50,317.50 C47.45,318.27 47.65,318.68 49.00,320.50 C50.35,322.32 52.48,326.07 54.60,328.40 C56.72,330.73 59.28,332.55 61.70,334.50 C64.12,336.45 66.05,338.82 69.10,340.10 C72.15,341.38 76.10,341.75 80.00,342.20 C83.90,342.65 87.68,343.08 92.50,342.80 C97.32,342.52 103.73,341.02 108.90,340.50 C114.07,339.98 118.95,340.22 123.50,339.70 C128.05,339.18 134.08,337.78 136.20,337.40" fill="none" stroke="#ec3f33" stroke-width="1.25" stroke-dasharray="7 2 1.3 2 1.3 2" stroke-linejoin="round"/>
<text x="81.3" y="290.5" font-size="10.2" text-anchor="middle">CFT-78-C60</text>
<text x="15.4" y="389.8" font-size="7.8" text-anchor="end" class="t">0.0</text>
<text x="15.4" y="359.1" font-size="7.8" text-anchor="end" class="t">0.5</text>
<text x="15.4" y="328.3" font-size="7.8" text-anchor="end" class="t">1.0</text>
<text x="15.4" y="297.6" font-size="7.8" text-anchor="end" class="t">1.5</text>
<text x="23.1" y="398.6" font-size="7.2" text-anchor="middle" class="t">0</text>
<text x="51.6" y="398.6" font-size="7.2" text-anchor="middle" class="t">1</text>
<text x="80.1" y="398.6" font-size="7.2" text-anchor="middle" class="t">2</text>
<text x="108.6" y="398.6" font-size="7.2" text-anchor="middle" class="t">3</text>
<text x="137.1" y="398.6" font-size="7.2" text-anchor="middle" class="t">4</text>
<text x="88.9" y="407.7" font-size="10.2" text-anchor="middle">Axial strain (%)</text>
<text transform="translate(10.70,342.00) rotate(-90)" font-size="10.4" text-anchor="middle" class="yl">N/N<tspan font-size="7.2" dy="2.2">0</tspan></text>
<line x1="29.1" y1="299.2" x2="45.5" y2="299.2" stroke="#111" stroke-width="1.4"/>
<text x="47.3" y="301.4" font-size="6.6" class="lg">Ncal/N0</text>
<line x1="29.1" y1="311.4" x2="45.5" y2="311.4" stroke="#222" stroke-width="1.4" stroke-dasharray="7 2.8"/>
<text x="47.3" y="313.59999999999997" font-size="6.6" class="lg">Nc/N0</text>
<line x1="76.5" y1="299.2" x2="93.5" y2="299.2" stroke="#8a8a8a" stroke-width="1.1" stroke-dasharray="2 1.4"/>
<text x="96.2" y="301.4" font-size="6.6" class="lg">Ns/N0</text>
<line x1="76.5" y1="311.4" x2="93.5" y2="311.4" stroke="#ec3f33" stroke-width="1.25" stroke-dasharray="7 2 1.3 2 1.3 2"/>
<text x="96.2" y="313.59999999999997" font-size="6.6" class="lg">Nexp/N0</text>
<line x1="194.1" y1="294.5" x2="194.1" y2="385.8" stroke="#f0f0f0" stroke-width="0.8"/>
<line x1="222.2" y1="294.5" x2="222.2" y2="385.8" stroke="#f0f0f0" stroke-width="0.8"/>
<line x1="250.4" y1="294.5" x2="250.4" y2="385.8" stroke="#f0f0f0" stroke-width="0.8"/>
<line x1="166" y1="355.4" x2="278.5" y2="355.4" stroke="#f0f0f0" stroke-width="0.8"/>
<line x1="166" y1="324.9" x2="278.5" y2="324.9" stroke="#f0f0f0" stroke-width="0.8"/>
<rect x="166" y="294.5" width="112.5" height="91.3" fill="none" stroke="#939393" stroke-width="1.05"/>
<path d="M166.00,384.50 C166.55,383.30 168.15,378.87 169.30,377.30 C170.45,375.73 170.78,375.40 172.90,375.10 C175.02,374.80 177.75,375.28 182.00,375.50 C186.25,375.72 192.07,376.28 198.40,376.40 C204.73,376.52 215.95,376.72 220.00,376.20 C224.05,375.68 219.67,373.73 222.70,373.30 C225.73,372.87 232.58,373.60 238.20,373.60 C243.82,373.60 249.68,373.45 256.40,373.30 C263.12,373.15 274.82,372.80 278.50,372.70" fill="none" stroke="#8a8a8a" stroke-width="1.1" stroke-dasharray="2 1.4"/>
<path d="M166.00,384.50 C166.38,380.73 167.45,368.73 168.30,361.90 C169.15,355.07 170.28,347.52 171.10,343.50 C171.92,339.48 172.25,339.22 173.20,337.80 C174.15,336.38 175.50,334.88 176.80,335.00 C178.10,335.12 179.12,336.97 181.00,338.50 C182.88,340.03 185.50,342.55 188.10,344.20 C190.70,345.85 193.95,347.22 196.60,348.40 C199.25,349.58 201.28,350.28 204.00,351.30 C206.72,352.32 209.90,353.68 212.90,354.50 C215.90,355.32 217.78,355.50 222.00,356.20 C226.22,356.90 232.47,357.98 238.20,358.70 C243.93,359.42 249.68,359.98 256.40,360.50 C263.12,361.02 274.82,361.58 278.50,361.80" fill="none" stroke="#222" stroke-width="1.4" stroke-dasharray="7 2.8" stroke-linejoin="round"/>
<path d="M166.00,384.50 C166.38,380.02 167.57,365.62 168.30,357.60 C169.03,349.58 169.70,341.35 170.40,336.40 C171.10,331.45 171.55,329.80 172.50,327.90 C173.45,326.00 174.92,325.13 176.10,325.00 C177.28,324.87 178.07,325.80 179.60,327.10 C181.13,328.40 183.17,331.13 185.30,332.80 C187.43,334.47 189.45,335.57 192.40,337.10 C195.35,338.63 199.58,340.77 203.00,342.00 C206.42,343.23 210.07,343.72 212.90,344.50 C215.73,345.28 218.37,346.70 220.00,346.70 C221.63,346.70 221.48,344.92 222.70,344.50 C223.92,344.08 225.33,343.95 227.30,344.20 C229.27,344.45 231.17,345.40 234.50,346.00 C237.83,346.60 242.13,347.38 247.30,347.80 C252.47,348.22 260.30,348.38 265.50,348.50 C270.70,348.62 276.33,348.50 278.50,348.50" fill="none" stroke="#111" stroke-width="1.4" stroke-linejoin="round"/>
<path d="M166.00,384.50 C166.38,382.62 167.22,378.15 168.30,373.20 C169.38,368.25 171.08,360.93 172.50,354.80 C173.92,348.67 175.62,341.37 176.80,336.40 C177.98,331.43 178.78,327.85 179.60,325.00 C180.42,322.15 180.75,319.53 181.70,319.30 C182.65,319.07 183.52,321.47 185.30,323.60 C187.08,325.73 189.95,329.78 192.40,332.10 C194.85,334.42 197.48,335.88 200.00,337.50 C202.52,339.12 204.75,340.47 207.50,341.80 C210.25,343.13 214.08,344.50 216.50,345.50 C218.92,346.50 219.90,347.20 222.00,347.80 C224.10,348.40 226.40,348.88 229.10,349.10 C231.80,349.32 235.17,349.25 238.20,349.10 C241.23,348.95 244.27,348.50 247.30,348.20 C250.33,347.90 253.37,347.25 256.40,347.30 C259.43,347.35 261.82,348.20 265.50,348.50 C269.18,348.80 276.33,349.00 278.50,349.10" fill="none" stroke="#ec3f33" stroke-width="1.25" stroke-dasharray="7 2 1.3 2 1.3 2" stroke-linejoin="round"/>
<text x="222.2" y="290.6" font-size="10.2" text-anchor="middle">CFT-78-C80</text>
<text x="157.8" y="388.4" font-size="7.8" text-anchor="end" class="t">0.0</text>
<text x="157.8" y="358.0" font-size="7.8" text-anchor="end" class="t">0.5</text>
<text x="157.8" y="327.5" font-size="7.8" text-anchor="end" class="t">1.0</text>
<text x="157.8" y="297.1" font-size="7.8" text-anchor="end" class="t">1.5</text>
<text x="165.5" y="397.2" font-size="7.2" text-anchor="middle" class="t">0</text>
<text x="193.6" y="397.2" font-size="7.2" text-anchor="middle" class="t">1</text>
<text x="221.8" y="397.2" font-size="7.2" text-anchor="middle" class="t">2</text>
<text x="249.9" y="397.2" font-size="7.2" text-anchor="middle" class="t">3</text>
<text x="278.0" y="397.2" font-size="7.2" text-anchor="middle" class="t">4</text>
<text x="228.2" y="406.5" font-size="10.2" text-anchor="middle">Axial strain (%)</text>
<text transform="translate(152.10,339.30) rotate(-90)" font-size="10.4" text-anchor="middle" class="yl">N/N<tspan font-size="7.2" dy="2.2">0</tspan></text>
<line x1="172" y1="299.1" x2="188.4" y2="299.1" stroke="#111" stroke-width="1.4"/>
<text x="190.2" y="301.3" font-size="6.6" class="lg">Ncal/N0</text>
<line x1="172" y1="311.8" x2="188.4" y2="311.8" stroke="#222" stroke-width="1.4" stroke-dasharray="7 2.8"/>
<text x="190.2" y="314.0" font-size="6.6" class="lg">Nc/N0</text>
<line x1="223.6" y1="299.1" x2="240" y2="299.1" stroke="#8a8a8a" stroke-width="1.1" stroke-dasharray="2 1.4"/>
<text x="241.8" y="301.3" font-size="6.6" class="lg">Ns/N0</text>
<line x1="223.6" y1="311.8" x2="240" y2="311.8" stroke="#ec3f33" stroke-width="1.25" stroke-dasharray="7 2 1.3 2 1.3 2"/>
<text x="241.8" y="314.0" font-size="6.6" class="lg">Nexp/N0</text>
<line x1="336.8" y1="292.7" x2="336.8" y2="385.6" stroke="#cfcfcf" stroke-width="0.8" stroke-dasharray="1 1.5"/>
<line x1="366.8" y1="292.7" x2="366.8" y2="385.6" stroke="#cfcfcf" stroke-width="0.8" stroke-dasharray="1 1.5"/>
<line x1="396.8" y1="292.7" x2="396.8" y2="385.6" stroke="#cfcfcf" stroke-width="0.8" stroke-dasharray="1 1.5"/>
<line x1="306.8" y1="354.6" x2="426.8" y2="354.6" stroke="#cfcfcf" stroke-width="0.8" stroke-dasharray="1 1.5"/>
<line x1="306.8" y1="323.7" x2="426.8" y2="323.7" stroke="#cfcfcf" stroke-width="0.8" stroke-dasharray="1 1.5"/>
<rect x="306.8" y="292.7" width="120.0" height="92.9" fill="none" stroke="#939393" stroke-width="1.05"/>
<path d="M307.30,385.40 C307.83,383.70 309.20,377.28 310.50,375.20 C311.80,373.12 313.10,373.37 315.10,372.90 C317.10,372.43 318.78,372.27 322.50,372.40 C326.22,372.53 332.45,373.30 337.40,373.70 C342.35,374.10 348.80,374.40 352.20,374.80 C355.60,375.20 355.82,376.10 357.80,376.10 C359.78,376.10 360.48,375.27 364.10,374.80 C367.72,374.33 373.83,373.55 379.50,373.30 C385.17,373.05 390.22,373.37 398.10,373.30 C405.98,373.23 422.02,372.97 426.80,372.90" fill="none" stroke="#a0a0a0" stroke-width="1.25" stroke-dasharray="3 2"/>
<path d="M307.30,385.40 C307.63,381.82 308.50,369.85 309.30,363.90 C310.10,357.95 311.17,353.72 312.10,349.70 C313.03,345.68 313.83,342.05 314.90,339.80 C315.97,337.55 317.08,336.55 318.50,336.20 C319.92,335.85 321.40,336.75 323.40,337.70 C325.40,338.65 326.95,340.25 330.50,341.90 C334.05,343.55 341.08,346.13 344.70,347.60 C348.32,349.07 348.97,349.85 352.20,350.70 C355.43,351.55 359.55,351.97 364.10,352.70 C368.65,353.43 373.83,354.38 379.50,355.10 C385.17,355.82 390.22,356.50 398.10,357.00 C405.98,357.50 422.02,357.92 426.80,358.10" fill="none" stroke="#111" stroke-width="1.7" stroke-dasharray="9 3" stroke-linejoin="round"/>
<path d="M307.30,385.40 C307.63,381.10 308.62,367.43 309.30,359.60 C309.98,351.77 310.58,343.83 311.40,338.40 C312.22,332.97 313.13,329.48 314.20,327.00 C315.27,324.52 316.73,324.08 317.80,323.50 C318.87,322.92 319.18,323.03 320.60,323.50 C322.02,323.97 324.17,325.12 326.30,326.30 C328.43,327.48 330.33,329.07 333.40,330.60 C336.47,332.13 341.25,334.20 344.70,335.50 C348.15,336.80 351.62,337.35 354.10,338.40 C356.58,339.45 357.93,341.23 359.60,341.80 C361.27,342.37 360.78,341.65 364.10,341.80 C367.42,341.95 373.83,342.40 379.50,342.70 C385.17,343.00 390.22,343.28 398.10,343.60 C405.98,343.92 422.02,344.43 426.80,344.60" fill="none" stroke="#111" stroke-width="1.9" stroke-linejoin="round"/>
<path d="M307.30,385.40 C307.38,383.70 307.00,381.38 307.80,375.20 C308.60,369.02 310.92,354.67 312.10,348.30 C313.28,341.93 313.95,340.55 314.90,337.00 C315.85,333.45 316.68,329.30 317.80,327.00 C318.92,324.70 320.18,324.13 321.60,323.20 C323.02,322.27 324.60,321.55 326.30,321.40 C328.00,321.25 329.95,321.37 331.80,322.30 C333.65,323.23 335.23,325.30 337.40,327.00 C339.57,328.70 342.02,330.65 344.80,332.50 C347.58,334.35 351.63,336.55 354.10,338.10 C356.57,339.65 357.93,341.03 359.60,341.80 C361.27,342.57 362.02,342.23 364.10,342.70 C366.18,343.17 368.90,344.13 372.10,344.60 C375.30,345.07 378.97,345.50 383.30,345.50 C387.63,345.50 394.40,344.60 398.10,344.60 C401.80,344.60 400.72,345.28 405.50,345.50 C410.28,345.72 423.25,345.83 426.80,345.90" fill="none" stroke="#ec3f33" stroke-width="1.6" stroke-dasharray="6.5 3.5 1.3 3.5" stroke-linejoin="round"/>
<text x="371.3" y="289.7" font-size="10.2" text-anchor="middle">CFT-91-C30</text>
<text x="299.8" y="388.2" font-size="6.8" text-anchor="end" class="t">0.0</text>
<text x="299.8" y="357.2" font-size="6.8" text-anchor="end" class="t">0.5</text>
<text x="299.8" y="326.3" font-size="6.8" text-anchor="end" class="t">1.0</text>
<text x="299.8" y="295.3" font-size="6.8" text-anchor="end" class="t">1.5</text>
<text x="306.3" y="395.5" font-size="7.2" text-anchor="middle" class="t">0</text>
<text x="336.3" y="395.5" font-size="7.2" text-anchor="middle" class="t">1</text>
<text x="366.3" y="395.5" font-size="7.2" text-anchor="middle" class="t">2</text>
<text x="396.3" y="395.5" font-size="7.2" text-anchor="middle" class="t">3</text>
<text x="426.3" y="395.5" font-size="7.2" text-anchor="middle" class="t">4</text>
<text x="366.7" y="406.5" font-size="10.2" text-anchor="middle">Axial strain (%)</text>
<text transform="translate(291.65,337.40) rotate(-90)" font-size="10.4" text-anchor="middle" class="yl">N/N<tspan font-size="7.2" dy="2.2">0</tspan></text>
<line x1="317.9" y1="299.1" x2="334.6" y2="299.1" stroke="#111" stroke-width="1.9"/>
<text x="335.9" y="301.3" font-size="6.8" class="lg">Ncal/N0</text>
<line x1="317.9" y1="310.9" x2="334.6" y2="310.9" stroke="#111" stroke-width="1.7" stroke-dasharray="8 4 2 10"/>
<text x="335.9" y="313.09999999999997" font-size="6.8" class="lg">Nc/N0</text>
<line x1="376.8" y1="299.1" x2="391.6" y2="299.1" stroke="#a0a0a0" stroke-width="1.25" stroke-dasharray="3 2"/>
<text x="395.3" y="301.3" font-size="6.8" class="lg">Ns/N0</text>
<line x1="376.8" y1="310.9" x2="391.6" y2="310.9" stroke="#ec3f33" stroke-width="1.6" stroke-dasharray="6.5 3.5 1.3 3.5"/>
<text x="395.3" y="313.09999999999997" font-size="6.8" class="lg">Nexp/N0</text>
<line x1="125.6" y1="434" x2="125.6" y2="526.1" stroke="#cfcfcf" stroke-width="0.8" stroke-dasharray="1 1.5"/>
<line x1="155.2" y1="434" x2="155.2" y2="526.1" stroke="#cfcfcf" stroke-width="0.8" stroke-dasharray="1 1.5"/>
<line x1="184.9" y1="434" x2="184.9" y2="526.1" stroke="#cfcfcf" stroke-width="0.8" stroke-dasharray="1 1.5"/>
<line x1="96" y1="495.4" x2="214.5" y2="495.4" stroke="#cfcfcf" stroke-width="0.8" stroke-dasharray="1 1.5"/>
<line x1="96" y1="464.7" x2="214.5" y2="464.7" stroke="#cfcfcf" stroke-width="0.8" stroke-dasharray="1 1.5"/>
<rect x="96" y="434" width="118.5" height="92.1" fill="none" stroke="#939393" stroke-width="1.05"/>
<path d="M96.00,525.50 C96.55,523.98 97.85,518.32 99.30,516.40 C100.75,514.48 102.28,514.32 104.70,514.00 C107.12,513.68 110.77,514.10 113.80,514.50 C116.83,514.90 120.47,515.78 122.90,516.40 C125.33,517.02 125.67,517.90 128.40,518.20 C131.13,518.50 135.70,518.20 139.30,518.20 C142.90,518.20 145.80,518.20 150.00,518.20 C154.20,518.20 160.57,518.50 164.50,518.20 C168.43,517.90 170.57,516.25 173.60,516.40 C176.63,516.55 179.67,519.02 182.70,519.10 C185.73,519.18 186.50,517.50 191.80,516.90 C197.10,516.30 210.72,515.73 214.50,515.50" fill="none" stroke="#a0a0a0" stroke-width="1.25" stroke-dasharray="3 2"/>
<path d="M96.00,525.50 C96.38,520.72 97.57,503.58 98.30,496.80 C99.03,490.02 99.58,487.75 100.40,484.80 C101.22,481.85 102.02,480.45 103.20,479.10 C104.38,477.75 106.20,476.93 107.50,476.70 C108.80,476.47 109.47,476.95 111.00,477.70 C112.53,478.45 114.33,479.78 116.70,481.20 C119.07,482.62 122.32,484.67 125.20,486.20 C128.08,487.73 131.65,489.52 134.00,490.40 C136.35,491.28 136.63,491.02 139.30,491.50 C141.97,491.98 145.18,492.48 150.00,493.30 C154.82,494.12 162.13,495.58 168.20,496.40 C174.27,497.22 178.68,497.68 186.40,498.20 C194.12,498.72 209.82,499.28 214.50,499.50" fill="none" stroke="#111" stroke-width="1.7" stroke-dasharray="9 3" stroke-linejoin="round"/>
<path d="M96.00,525.50 C96.25,522.32 96.95,513.23 97.50,506.40 C98.05,499.57 98.55,490.42 99.30,484.50 C100.05,478.58 101.10,473.92 102.00,470.90 C102.90,467.88 103.63,467.30 104.70,466.40 C105.77,465.50 107.18,465.35 108.40,465.50 C109.62,465.65 110.18,465.95 112.00,467.30 C113.82,468.65 116.57,471.48 119.30,473.60 C122.03,475.72 125.37,478.42 128.40,480.00 C131.43,481.58 134.48,482.28 137.50,483.10 C140.52,483.92 144.42,484.50 146.50,484.90 C148.58,485.30 147.90,485.10 150.00,485.50 C152.10,485.90 156.07,486.80 159.10,487.30 C162.13,487.80 165.93,488.50 168.20,488.50 C170.47,488.50 171.33,487.42 172.70,487.30 C174.07,487.18 175.03,487.35 176.40,487.80 C177.77,488.25 178.93,489.63 180.90,490.00 C182.87,490.37 186.38,490.15 188.20,490.00 C190.02,489.85 189.08,489.25 191.80,489.10 C194.52,488.95 200.72,489.10 204.50,489.10 C208.28,489.10 212.83,489.10 214.50,489.10" fill="none" stroke="#111" stroke-width="1.9" stroke-linejoin="round"/>
<path d="M96.00,525.50 C96.38,524.27 97.22,521.93 98.30,518.10 C99.38,514.27 101.33,507.47 102.50,502.50 C103.67,497.53 104.35,492.80 105.30,488.30 C106.25,483.80 107.25,479.05 108.20,475.50 C109.15,471.95 109.82,469.12 111.00,467.00 C112.18,464.88 113.97,463.58 115.30,462.80 C116.63,462.02 117.93,462.18 119.00,462.30 C120.07,462.42 120.20,462.00 121.70,463.50 C123.20,465.00 126.00,469.30 128.00,471.30 C130.00,473.30 131.22,474.35 133.70,475.50 C136.18,476.65 140.18,477.60 142.90,478.20 C145.62,478.80 146.40,478.50 150.00,479.10 C153.60,479.70 160.57,481.05 164.50,481.80 C168.43,482.55 169.95,483.15 173.60,483.60 C177.25,484.05 182.45,483.98 186.40,484.50 C190.35,485.02 192.62,486.33 197.30,486.70 C201.98,487.07 211.63,486.70 214.50,486.70" fill="none" stroke="#ec3f33" stroke-width="1.6" stroke-dasharray="6.5 3.5 1.3 3.5" stroke-linejoin="round"/>
<text x="154.9" y="429.3" font-size="10.2" text-anchor="middle">CFT-91-C60</text>
<text x="89.0" y="528.7" font-size="6.8" text-anchor="end" class="t">0.0</text>
<text x="89.0" y="498.0" font-size="6.8" text-anchor="end" class="t">0.5</text>
<text x="89.0" y="467.3" font-size="6.8" text-anchor="end" class="t">1.0</text>
<text x="89.0" y="436.6" font-size="6.8" text-anchor="end" class="t">1.5</text>
<text x="95.5" y="536.0" font-size="7.2" text-anchor="middle" class="t">0</text>
<text x="125.1" y="536.0" font-size="7.2" text-anchor="middle" class="t">1</text>
<text x="154.8" y="536.0" font-size="7.2" text-anchor="middle" class="t">2</text>
<text x="184.4" y="536.0" font-size="7.2" text-anchor="middle" class="t">3</text>
<text x="214.0" y="536.0" font-size="7.2" text-anchor="middle" class="t">4</text>
<text x="154.5" y="546.0" font-size="10.2" text-anchor="middle">Axial&#160;&#160;strain (%)</text>
<text transform="translate(80.70,479.75) rotate(-90)" font-size="10.4" text-anchor="middle" class="yl">N/N<tspan font-size="7.2" dy="2.2">0</tspan></text>
<line x1="106.5" y1="440.5" x2="122" y2="440.5" stroke="#111" stroke-width="1.9"/>
<text x="124.7" y="442.7" font-size="6.8" class="lg">Ncal/N0</text>
<line x1="106.5" y1="452.2" x2="122" y2="452.2" stroke="#111" stroke-width="1.7" stroke-dasharray="8 4 2 10"/>
<text x="124.7" y="454.4" font-size="6.8" class="lg">Nc/N0</text>
<line x1="164.5" y1="440.5" x2="179.1" y2="440.5" stroke="#a0a0a0" stroke-width="1.25" stroke-dasharray="3 2"/>
<text x="182.7" y="442.7" font-size="6.8" class="lg">Ns/N0</text>
<line x1="164.5" y1="452.2" x2="179.1" y2="452.2" stroke="#ec3f33" stroke-width="1.6" stroke-dasharray="6.5 3.5 1.3 3.5"/>
<text x="182.7" y="454.4" font-size="6.8" class="lg">Nexp/N0</text>
<line x1="272.2" y1="433.1" x2="272.2" y2="526" stroke="#cfcfcf" stroke-width="0.8" stroke-dasharray="1 1.5"/>
<line x1="302.1" y1="433.1" x2="302.1" y2="526" stroke="#cfcfcf" stroke-width="0.8" stroke-dasharray="1 1.5"/>
<line x1="332.1" y1="433.1" x2="332.1" y2="526" stroke="#cfcfcf" stroke-width="0.8" stroke-dasharray="1 1.5"/>
<line x1="242.3" y1="495.0" x2="362" y2="495.0" stroke="#cfcfcf" stroke-width="0.8" stroke-dasharray="1 1.5"/>
<line x1="242.3" y1="464.1" x2="362" y2="464.1" stroke="#cfcfcf" stroke-width="0.8" stroke-dasharray="1 1.5"/>
<rect x="242.3" y="433.1" width="119.7" height="92.9" fill="none" stroke="#939393" stroke-width="1.05"/>
<path d="M242.70,525.00 C242.97,523.85 243.33,519.68 244.30,518.10 C245.27,516.52 246.85,515.95 248.50,515.50 C250.15,515.05 251.83,515.20 254.20,515.40 C256.57,515.60 261.28,516.48 262.70,516.70" fill="none" stroke="#a0a0a0" stroke-width="1.25" stroke-dasharray="3 2"/>
<path d="M242.70,525.00 C243.17,519.65 244.57,500.25 245.50,492.90 C246.43,485.55 247.37,483.75 248.30,480.90 C249.23,478.05 250.18,476.73 251.10,475.80 C252.02,474.87 252.73,474.92 253.80,475.30 C254.87,475.68 256.42,477.17 257.50,478.10 C258.58,479.03 259.37,480.22 260.30,480.90 C261.23,481.58 262.63,481.98 263.10,482.20" fill="none" stroke="#111" stroke-width="1.7" stroke-dasharray="9 3" stroke-linejoin="round"/>
<path d="M242.70,525.00 C243.02,521.20 243.98,509.72 244.60,502.20 C245.22,494.68 245.78,485.32 246.40,479.90 C247.02,474.48 247.52,472.02 248.30,469.70 C249.08,467.38 250.18,466.62 251.10,466.00 C252.02,465.38 252.73,465.53 253.80,466.00 C254.87,466.47 256.25,467.72 257.50,468.80 C258.75,469.88 260.30,471.57 261.30,472.50 C262.30,473.43 263.13,474.08 263.50,474.40" fill="none" stroke="#111" stroke-width="1.9" stroke-linejoin="round"/>
<path d="M242.70,525.00 C242.97,523.85 243.57,521.15 244.30,518.10 C245.03,515.05 246.17,510.48 247.10,506.70 C248.03,502.92 248.95,499.42 249.90,495.40 C250.85,491.38 251.85,486.62 252.80,482.60 C253.75,478.58 254.78,474.37 255.60,471.30 C256.42,468.23 256.97,465.83 257.70,464.20 C258.43,462.57 259.37,461.98 260.00,461.50 C260.63,461.02 260.93,460.85 261.50,461.30 C262.07,461.75 263.08,463.72 263.40,464.20" fill="none" stroke="#ec3f33" stroke-width="1.5" stroke-dasharray="2.2 2.6" stroke-linejoin="round"/>
<text x="303.4" y="428.1" font-size="10.2" text-anchor="middle">CFT-115-C30</text>
<text x="235.3" y="528.6" font-size="6.8" text-anchor="end" class="t">0.0</text>
<text x="235.3" y="497.6" font-size="6.8" text-anchor="end" class="t">0.5</text>
<text x="235.3" y="466.7" font-size="6.8" text-anchor="end" class="t">1.0</text>
<text x="235.3" y="435.7" font-size="6.8" text-anchor="end" class="t">1.5</text>
<text x="241.8" y="535.9" font-size="7.2" text-anchor="middle" class="t">0</text>
<text x="271.7" y="535.9" font-size="7.2" text-anchor="middle" class="t">1</text>
<text x="301.6" y="535.9" font-size="7.2" text-anchor="middle" class="t">2</text>
<text x="331.6" y="535.9" font-size="7.2" text-anchor="middle" class="t">3</text>
<text x="361.5" y="535.9" font-size="7.2" text-anchor="middle" class="t">4</text>
<text x="304.0" y="546.0" font-size="10.2" text-anchor="middle">Axial strain (%)</text>
<text transform="translate(229.05,478.80) rotate(-90)" font-size="10.4" text-anchor="middle" class="yl">N/N<tspan font-size="7.2" dy="2.2">0</tspan></text>
<line x1="252.4" y1="438.6" x2="268.3" y2="438.6" stroke="#111" stroke-width="1.9"/>
<text x="270.5" y="440.8" font-size="6.8" class="lg">Ncal/N0</text>
<line x1="252.4" y1="448.7" x2="268.3" y2="448.7" stroke="#111" stroke-width="1.7" stroke-dasharray="8 4 2 10"/>
<text x="270.5" y="450.9" font-size="6.8" class="lg">Nc/N0</text>
<line x1="311.2" y1="438.6" x2="325.9" y2="438.6" stroke="#a0a0a0" stroke-width="1.25" stroke-dasharray="3 2"/>
<text x="329.9" y="440.8" font-size="6.8" class="lg">Ns/N0</text>
<line x1="311.2" y1="448.7" x2="325.9" y2="448.7" stroke="#ec3f33" stroke-width="1.6" stroke-dasharray="6.5 3.5 1.3 3.5"/>
<text x="329.9" y="450.9" font-size="6.8" class="lg">Nexp/N0</text>
</svg></body></html>
